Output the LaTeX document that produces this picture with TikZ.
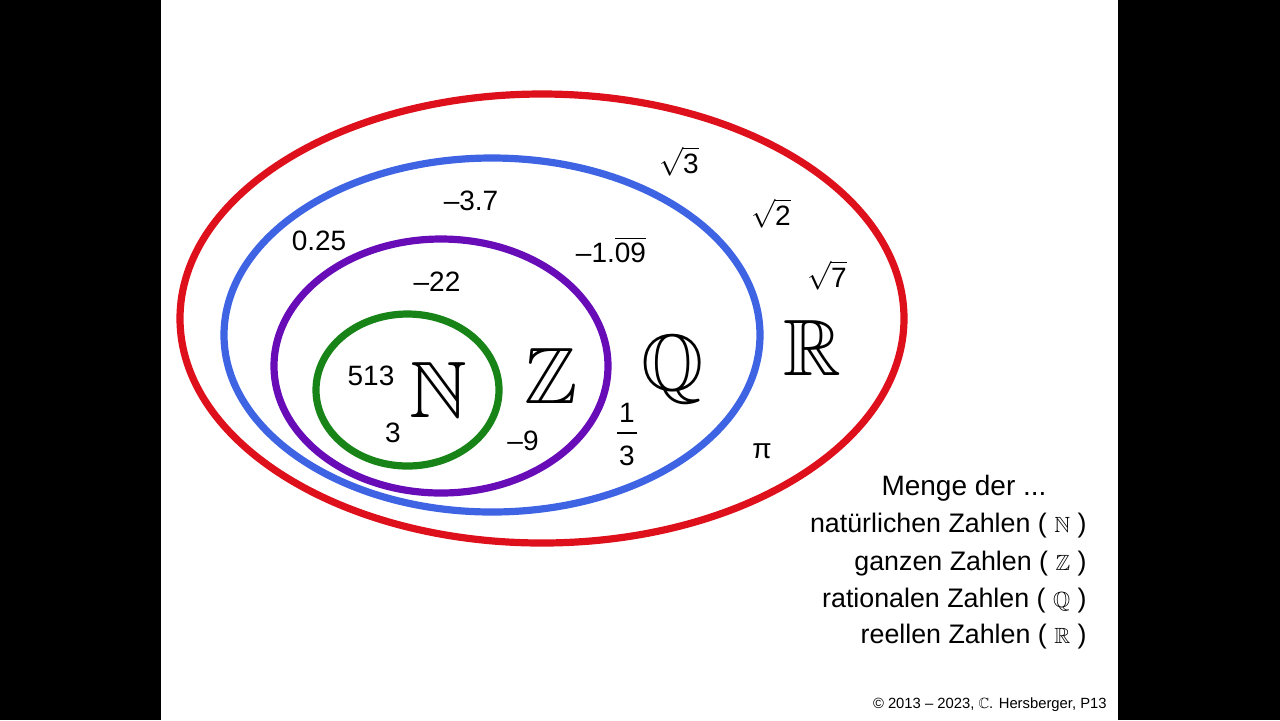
\documentclass[tikz,border=0pt]{standalone}
\usepackage{amssymb}
\usepackage{fontspec}
\setmainfont{Liberation Sans}
\definecolor{cred}{RGB}{222,16,28}
\definecolor{cblue}{RGB}{62,100,228}
\definecolor{cpurple}{RGB}{104,12,184}
\definecolor{cgreen}{RGB}{24,132,24}
\newcommand\bbl[1]{$\mathbb{#1}$}
\newcommand\rad[1]{$\sqrt{\mbox{#1}}$}
\tikzset{
  ring/.style={line width=3.6pt},
  lbl/.style={font=\fontsize{14}{16}\selectfont, inner sep=0, anchor=base},
  big/.style={font=\fontsize{40}{40}\selectfont, inner sep=0, anchor=base},
  leg/.style={font=\fontsize{13.4}{16}\selectfont, inner sep=0, anchor=base east},
  copy/.style={font=\fontsize{7.4}{9}\selectfont, inner sep=0, anchor=base east}
}
\begin{document}
\begin{tikzpicture}[x=0.5pt,y=-0.5pt]
\useasboundingbox (0,0) rectangle (1280,720);
\fill[black] (0,0) rectangle (161,720);
\fill[black] (1118,0) rectangle (1280,720);
% sets
\draw[ring,cred] (542,318.5) ellipse [x radius=362, y radius=224.5];
\draw[ring,cblue] (492,335) ellipse [x radius=268, y radius=177];
\draw[ring,cpurple] (441,366) ellipse [x radius=167, y radius=127];
\draw[ring,cgreen] (407.5,390) ellipse [x radius=91.5, y radius=76];
% set letters
\node[big] (N) at (438,417) {\bbl{N}};
\node[big] (Z) at (551,403) {\bbl{Z}};
\node[big] (Q) at (673,390) {\bbl{Q}};
\node[big] (R) at (812,375) {\bbl{R}};
% numbers
\node[lbl] (a) at (319,250) {0.25};
\node[lbl] (b) at (471,210) {–3.7};
\node[lbl] (c) at (611,262) {–1.$\overline{\mbox{09}}$};
\node[lbl] (d) at (437,291) {–22};
\node[lbl] (e) at (371,385) {513};
\node[lbl] (f) at (393,442) {3};
\node[lbl] (g) at (523,450) {–9};
\node[lbl] (h) at (679,173) {\rad{3}};
\node[lbl] (i) at (771,225) {\rad{2}};
\node[lbl] (j) at (827,287) {\rad{7}};
\node[lbl] (k) at (762,458) {π};
\node[lbl] (num) at (627,422) {1};
\node[lbl] (den) at (627,465) {3};
\draw[line width=1pt] (617,433) -- (637,433);
% legend
\node[lbl] (l0) at (964,495) {Menge der ...};
\node[leg] (l1) at (1087,532) {natürlichen Zahlen ( {\fontsize{11}{12}\selectfont\bbl{N}} )};
\node[leg] (l2) at (1087,570) {ganzen Zahlen ( {\fontsize{11}{12}\selectfont\bbl{Z}} )};
\node[leg] (l3) at (1087,607) {rationalen Zahlen ( {\fontsize{11}{12}\selectfont\bbl{Q}} )};
\node[leg] (l4) at (1087,643) {reellen Zahlen ( {\fontsize{11}{12}\selectfont\bbl{R}} )};
\node[copy] (cp) at (1107,708) {© 2013 – 2023, \bbl{C}. Hersberger, P13};
\end{tikzpicture}
\end{document}
